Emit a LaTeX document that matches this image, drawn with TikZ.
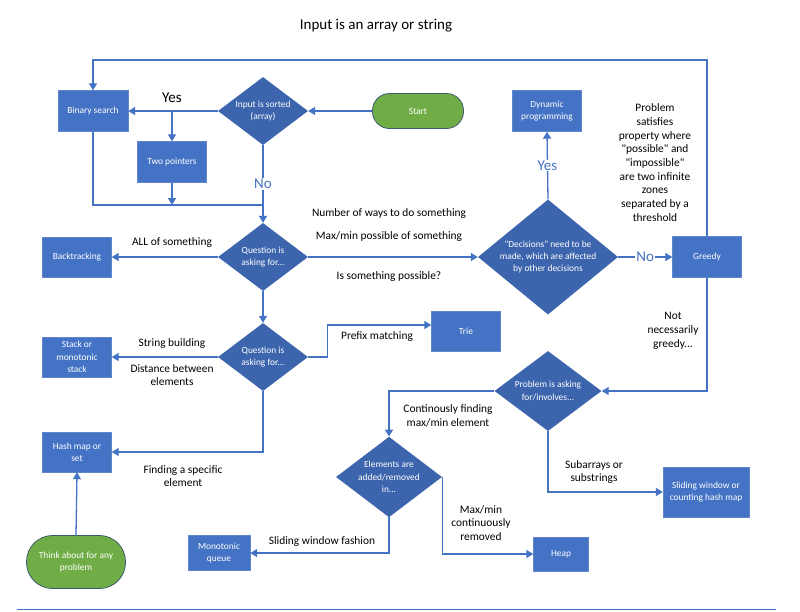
\documentclass[tikz,border=0pt]{standalone}
\usepackage{fontspec}
\setmainfont{Carlito}[Ligatures=TeXOff]
\usetikzlibrary{shapes.geometric,arrows.meta}
\definecolor{boxblue}{HTML}{4472C4}
\definecolor{diablue}{HTML}{3D65AD}
\definecolor{linkblue}{HTML}{4472C4}
\definecolor{termgreen}{HTML}{70AD47}
\definecolor{termedge}{HTML}{3E5A6E}
\tikzset{
 box/.style={rectangle,fill=boxblue,draw=boxblue!85!white,text=white,align=center,
  font=\fontsize{9.4}{12.3}\selectfont,inner sep=1pt},
 choice/.style={diamond,fill=diablue,text=white,align=center,
  font=\fontsize{9.4}{12.3}\selectfont,inner sep=0pt,aspect=1.25},
 term/.style={rectangle,fill=termgreen,draw=termedge,line width=0.8pt,text=white,
  align=center,font=\fontsize{9.4}{12.3}\selectfont},
 link/.style={draw=linkblue,line width=1.3pt},
 arr/.style={link,-{Triangle[width=8pt,length=7pt]}},
 lbl/.style={font=\fontsize{11.4}{13.7}\selectfont,align=center,text=black},
 yn/.style={font=\fontsize{15}{16}\selectfont,text=linkblue,fill=white,inner sep=1pt}
}
\begin{document}
\begin{tikzpicture}[x=1pt,y=-1pt]
 \useasboundingbox (0,0) rectangle (800,611);
 \node[font=\fontsize{15}{17}\selectfont] (title) at (376,26) {Input is an array or string};

 % first row
 \node[box,minimum width=70pt,minimum height=41pt] (bin) at (93,111) {Binary search};
 \node[box,minimum width=69pt,minimum height=41pt] (two) at (172,162) {Two pointers};
 \node[choice,minimum width=90pt,minimum height=68pt] (sorted) at (263,111) {Input is sorted\\(array)};
 \node[term,minimum width=91pt,minimum height=35pt,rounded corners=17pt] (start) at (418,111) {Start};
 \node[box,minimum width=69pt,minimum height=41pt] (dp) at (547,111) {Dynamic\\programming};

 % second row
 \node[box,minimum width=69pt,minimum height=40pt] (back) at (77,257) {Backtracking};
 \node[choice,minimum width=90pt,minimum height=68pt] (q1) at (263,257) {Question is\\asking for...};
 \node[choice,minimum width=140pt,minimum height=115pt,aspect=1.2] (dec) at (548,257)
  {"Decisions" need to be\\made, which are affected\\by other decisions};
 \node[box,minimum width=69pt,minimum height=41pt] (greedy) at (707,257) {Greedy};

 % third row
 \node[box,minimum width=69pt,minimum height=40pt] (stack) at (77,357) {Stack or\\monotonic\\stack};
 \node[choice,minimum width=90pt,minimum height=68pt] (q2) at (263,357) {Question is\\asking for...};
 \node[box,minimum width=69pt,minimum height=40pt] (trie) at (466,331) {Trie};
 \node[choice,minimum width=107pt,minimum height=80pt] (prob) at (548,391) {Problem is asking\\for/involves...};

 % bottom part
 \node[box,minimum width=69pt,minimum height=40pt] (hash) at (77,452) {Hash map or\\set};
 \node[choice,minimum width=106pt,minimum height=80pt] (elem) at (389,477) {Elements are\\added/removed\\in...};
 \node[box,minimum width=86pt,minimum height=50pt] (slide) at (706,492) {Sliding window or\\counting hash map};
 \node[term,minimum width=99pt,minimum height=53pt,rounded corners=26pt] (think) at (76,562) {Think about for any\\problem};
 \node[box,minimum width=62pt,minimum height=35pt] (mq) at (219,553) {Monotonic\\queue};
 \node[box,minimum width=55pt,minimum height=34pt] (heap) at (561,554) {Heap};

 \coordinate (join) at (263,205);
 \coordinate (topright) at (707,60);

 % connectors
 \draw[arr] (start.west) -- (sorted.east);
 \draw[arr] (sorted.west) -- (bin.east);
 \draw[arr] (sorted.west -| two.north) -- (two.north);
 \node[font=\fontsize{15}{16}\selectfont] (yes1) at (172,98) {Yes};
 \draw[arr] (sorted.south) -- node[yn] (no1) {No} (q1.north);
 \draw[link] (bin.south) |- (join);
 \draw[arr] (two.south) -- (two.south |- join);
 \draw[arr] (greedy.north) -- (topright) -| (bin.north);

 \draw[arr] (q1.west) -- (back.east);
 \draw[arr] (q1.east) -- (dec.west);
 \draw[arr] (dec.north) -- node[yn] (yes2) {Yes} (dp.south);
 \draw[arr] (dec.east) -- node[yn] (no2) {No} (greedy.west);
 \draw[arr] (greedy.south) |- (prob.east);
 \draw[arr] (q1.south) -- (q2.north);

 \draw[arr] (q2.west) -- (stack.east);
 \draw[arr] (q2.east) -- ++(19,0) |- ([yshift=6pt]trie.west);
 \draw[arr] (q2.south) |- (hash.east);
 \draw[arr] (think.north) -- (hash.south);

 \draw[arr] (prob.west) -| (elem.north);
 \draw[arr] (prob.south) |- (slide.west);
 \draw[arr] (elem.south) |- (mq.east);
 \draw[arr] (elem.east) |- (heap.west);

 % labels
 \node[lbl] (l1) at (172,243) {ALL of something};
 \node[lbl] (l2) at (389,214) {Number of ways to do something};
 \node[lbl] (l3) at (389,237) {Max/min possible of something};
 \node[lbl] (l4) at (389,277) {Is something possible?};
 \node[lbl] (l5) at (655,162.5) {Problem\\satisfies\\property where\\"possible" and\\"impossible"\\are two infinite\\zones\\separated by a\\threshold};
 \node[lbl] (l6) at (673,331) {Not\\necessarily\\greedy...};
 \node[lbl] (l7) at (172,344) {String building};
 \node[lbl] (l8) at (172,375) {Distance between\\elements};
 \node[lbl] (l9) at (377,337) {Prefix matching};
 \node[lbl] (l10) at (183,476) {Finding a specific\\element};
 \node[lbl] (l11) at (448,416) {Continously finding\\max/min element};
 \node[lbl] (l12) at (594,472) {Subarrays or\\substrings};
 \node[lbl] (l13) at (481,523) {Max/min\\continuously\\removed};
 \node[lbl] (l14) at (322,542) {Sliding window fashion};

 \draw[link,line width=1pt] (17,609) -- (776,609);
\end{tikzpicture}
\end{document}
